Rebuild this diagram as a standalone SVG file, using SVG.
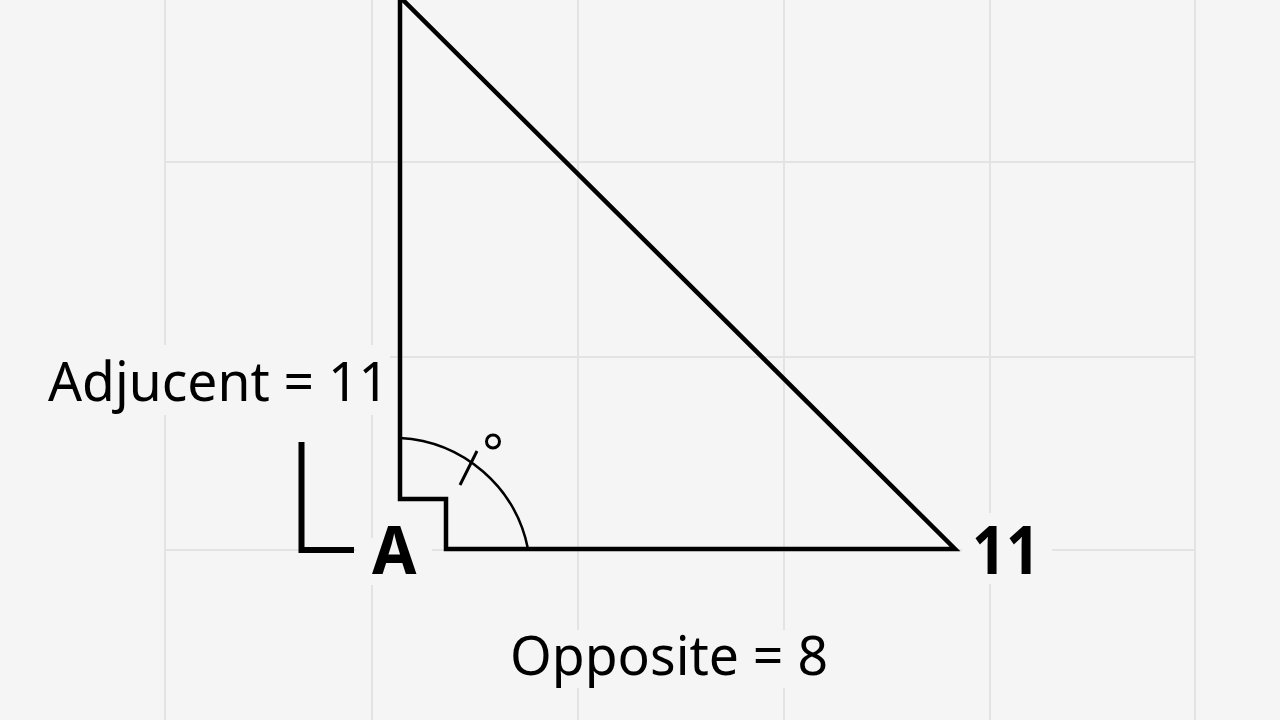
<svg xmlns="http://www.w3.org/2000/svg" width="1280" height="720" viewBox="0 0 1280 720">
  <style>
    .grid { stroke: #e3e3e3; stroke-width: 2; fill: none; }
    .mask { fill: #f5f5f5; stroke: none; }
    .ink { stroke: #000; fill: none; stroke-linejoin: miter; stroke-linecap: butt; }
    .lbl { font-family: "Noto Sans", "Open Sans", sans-serif; fill: #000; }
  </style>
  <rect x="0" y="0" width="1280" height="720" fill="#f5f5f5"/>
  <g id="grid" class="grid">
    <line x1="165" y1="0" x2="165" y2="720"/>
    <line x1="372" y1="0" x2="372" y2="720"/>
    <line x1="578" y1="0" x2="578" y2="720"/>
    <line x1="784" y1="0" x2="784" y2="720"/>
    <line x1="990" y1="0" x2="990" y2="720"/>
    <line x1="1195" y1="0" x2="1195" y2="720"/>
    <line x1="165" y1="162" x2="1195" y2="162"/>
    <line x1="165" y1="357" x2="1195" y2="357"/>
    <line x1="165" y1="550" x2="1195" y2="550"/>
  </g>
  <g id="label-masks">
    <rect class="mask" x="42" y="345" width="348" height="70"/>
    <rect class="mask" x="504" y="630" width="330" height="58"/>
    <rect class="mask" x="356" y="538" width="76" height="47"/>
    <rect class="mask" x="962" y="513" width="90" height="71"/>
  </g>
  <g id="triangle">
    <path class="ink" stroke-width="4.5" d="M 400 -3 L 400 499 L 446 499 L 446 549 L 955 549 Z"/>
  </g>
  <g id="angle-marks">
    <path class="ink" stroke-width="2.5" d="M 400 438 A 138 138 0 0 1 528 549"/>
    <line class="ink" stroke-width="3" x1="460" y1="485" x2="477" y2="451"/>
    <circle class="ink" stroke-width="3" cx="493" cy="441.5" r="6.5"/>
  </g>
  <g id="right-angle-symbol">
    <path class="ink" stroke-width="6" d="M 301.5 442 L 301.5 550 L 354 550"/>
  </g>
  <g id="labels">
    <text id="adjacent-label" class="lbl" x="48" y="400.5" font-size="54" textLength="341" lengthAdjust="spacingAndGlyphs">Adjucent = 11</text>
    <text id="opposite-label" class="lbl" x="510" y="675" font-size="54" textLength="318" lengthAdjust="spacingAndGlyphs">Opposite = 8</text>
    <text id="vertex-a" class="lbl" x="372" y="574" font-size="66" font-weight="bold" textLength="44.5" lengthAdjust="spacingAndGlyphs">A</text>
    <text id="vertex-11" class="lbl" x="972" y="574" font-size="66" font-weight="bold" textLength="68" lengthAdjust="spacingAndGlyphs">11</text>
  </g>
</svg>
